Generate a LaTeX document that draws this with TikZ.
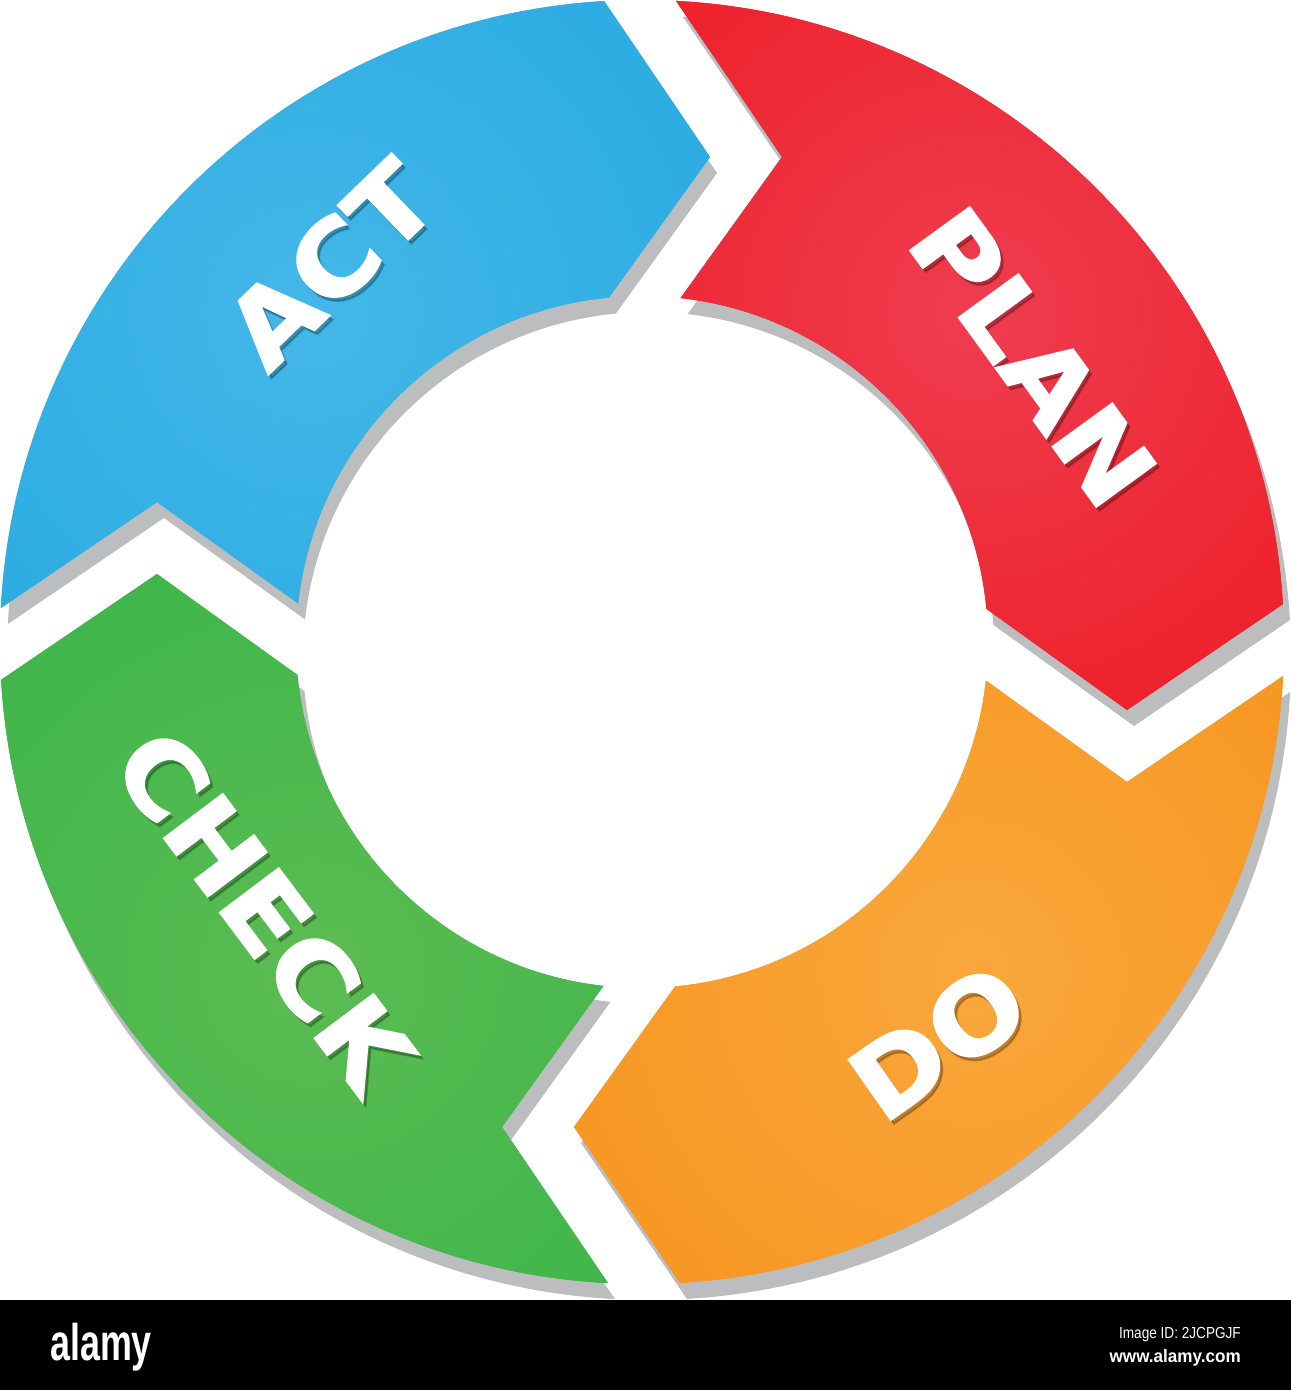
\documentclass[tikz,border=0pt]{standalone}
\usepackage{fontspec}
\usepackage{graphicx}
\setmainfont{DejaVu Sans}
\newfontfamily\labfont[BoldFeatures={FakeBold=2}]{DejaVu Sans}
\newfontfamily\wmfont{Liberation Sans}
\definecolor{cblue}{HTML}{27AAE1}
\definecolor{cbluel}{HTML}{44B7E8}
\definecolor{cred}{HTML}{ED1C24}
\definecolor{credl}{HTML}{EF3D50}
\definecolor{corange}{HTML}{F7941D}
\definecolor{corangel}{HTML}{F9A73C}
\definecolor{cgreen}{HTML}{39B54A}
\definecolor{cgreenl}{HTML}{5CBC52}
\definecolor{shadowgray}{RGB}{188,189,191}
\newcommand\segpoly{(-78,700) -- (68,485) -- (-101,250) -- (0,0) -- (-250,-29) -- (-485,140) -- (-700,-6) -- (-1000,-6) -- (-1000,1000) -- (-78,1000) -- cycle}
\newcommand\annulus{(642,0) arc[start angle=0,end angle=360,radius=642] -- (346,0) arc[start angle=360,end angle=0,radius=346] -- cycle}
\newcommand\ringshadow[1]{%
  \begin{scope}[shift={(7,-16)}]
    \begin{scope}[rotate=#1]
      \clip \segpoly;
      \fill[shadowgray] \annulus;
    \end{scope}
  \end{scope}}
\newcommand\ringseg[3]{%
  \begin{scope}[rotate=#1]
    \clip \segpoly;
    \clip \annulus;
    \fill[#2] (-1000,-1000) rectangle (1000,1000);
    \shade[inner color=#3, outer color=#2] (-330,330) circle (520);
  \end{scope}}
\tikzset{
  seglabel/.style={text=white, font=\labfont\bfseries\fontsize{101}{101}\selectfont, inner sep=0pt},
  segshade/.style={text=black, text opacity=0.22, font=\labfont\bfseries\fontsize{101}{101}\selectfont, inner sep=0pt},
  wmtext/.style={text=white, inner sep=0pt}
}
\begin{document}
\begin{tikzpicture}[x=1pt,y=1pt]
\useasboundingbox (-642,-748) rectangle (649,642);
\fill[white] (-642,-748) rectangle (649,642);
% shadows
\ringshadow{0}
\ringshadow{-90}
\ringshadow{180}
\ringshadow{90}
% segments
\ringseg{0}{cblue}{cbluel}
\ringseg{-90}{cred}{credl}
\ringseg{180}{corange}{corangel}
\ringseg{90}{cgreen}{cgreenl}
% labels (with their drop shadows)
\node[segshade, rotate=44] (actS) at (-309,374) {\scalebox{1.1}[1]{ACT}};
\node[seglabel, rotate=44] (act) at (-312,378) {\scalebox{1.1}[1]{ACT}};
\node[segshade, rotate=-54] (planS) at (394,281) {\scalebox{1.12}[1]{PLAN}};
\node[seglabel, rotate=-54] (plan) at (391,285) {\scalebox{1.12}[1]{PLAN}};
\node[segshade, rotate=35] (doS) at (299,-404) {\scalebox{1.1}[1]{DO}};
\node[seglabel, rotate=35] (do) at (296,-400) {\scalebox{1.1}[1]{DO}};
\node[segshade, rotate=-53] (checkS) at (-375,-272) {\scalebox{1.1}[1]{CHECK}};
\node[seglabel, rotate=-53] (check) at (-378,-268) {\scalebox{1.1}[1]{CHECK}};
% watermark bar
\fill[black] (-642,-658) rectangle (649,-748);
\node[wmtext, anchor=base west] (logo) at (-592,-718) {\scalebox{0.78}[1.12]{\wmfont\bfseries\fontsize{46}{46}\selectfont alamy}};
\node[wmtext, anchor=base east] (imgid) at (599,-696) {\scalebox{0.85}[1]{\wmfont\fontsize{16}{16}\selectfont Image ID: 2JCPGJF}};
\node[wmtext, anchor=base east] (www) at (599,-720) {\scalebox{0.95}[1]{\wmfont\bfseries\fontsize{18}{18}\selectfont www.alamy.com}};
\end{tikzpicture}
\end{document}
